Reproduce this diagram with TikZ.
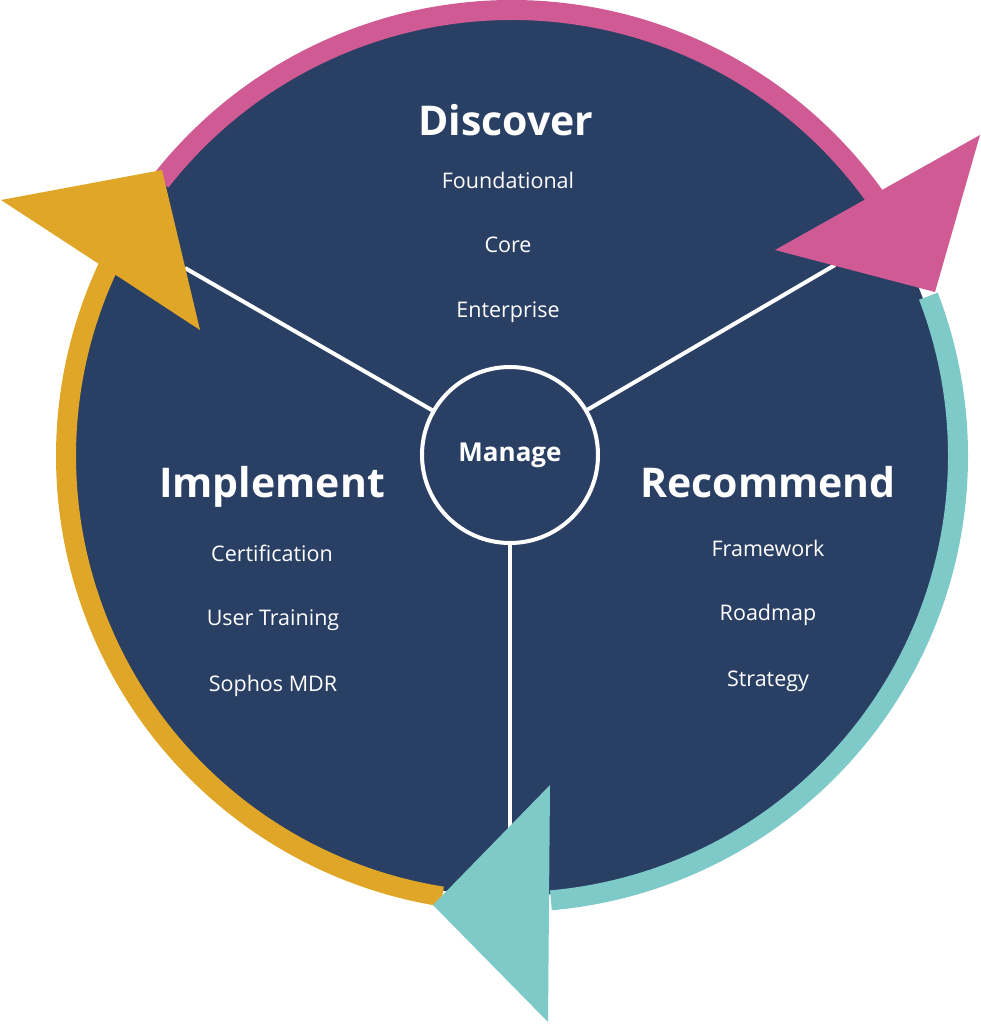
\documentclass[tikz,border=0pt]{standalone}
\usepackage{fontspec}
\setmainfont{Open Sans}
\begin{document}
\begin{tikzpicture}[x=1pt,y=-1pt,
  ring/.style={line width=20pt},
  spoke/.style={white,line width=4pt},
  title/.style={white,font=\fontsize{41}{44}\selectfont\bfseries},
  item/.style={white,font=\fontsize{21.5}{24}\selectfont}]
\definecolor{navy}{HTML}{2A3F64}
\definecolor{pinkc}{HTML}{CF5A94}
\definecolor{tealc}{HTML}{7ECAC8}
\definecolor{orangec}{HTML}{E0A628}
\useasboundingbox (0,0) rectangle (981,1024);
\coordinate (c) at (512,456);
\fill[navy] (c) circle (440);
\draw[ring,pinkc] ([shift={(-142:446)}]c) arc[start angle=-142,end angle=-35,radius=446];
\draw[ring,tealc] ([shift={(-21:446)}]c) arc[start angle=-21,end angle=85,radius=446];
\draw[ring,orangec] ([shift={(99:446)}]c) arc[start angle=99,end angle=205,radius=446];
\node[draw=white,line width=4pt,circle,minimum size=176pt] (m) at (510,455) {};
\node[white,font=\fontsize{26}{30}\selectfont\bfseries] at (510,455) {Manage};
\coordinate (s1) at (185,268);
\coordinate (s2) at (835,265);
\coordinate (s3) at (510,835);
\draw[spoke] (m) -- (s1);
\draw[spoke] (m) -- (s2);
\draw[spoke] (m.south) -- (s3);
\fill[orangec] (1,200) -- (162,170) -- (200,330) -- cycle;
\fill[pinkc] (980,135) -- (775,250) -- (935,292) -- cycle;
\fill[tealc] (550,785) -- (433,905) -- (548,1022) -- cycle;
\node[title] at (506,120) {Discover};
\node[item] at (508,180) {Foundational};
\node[item] at (508,245) {Core};
\node[item] at (508,312) {Enterprise};
\node[title] at (272,487) {Implement};
\node[item] at (272,553) {Certification};
\node[item] at (273,620) {User Training};
\node[item] at (273,686) {Sophos MDR};
\node[title] at (768,482) {Recommend};
\node[item] at (768,548) {Framework};
\node[item] at (768,615) {Roadmap};
\node[item] at (768,681) {Strategy};
\end{tikzpicture}
\end{document}
